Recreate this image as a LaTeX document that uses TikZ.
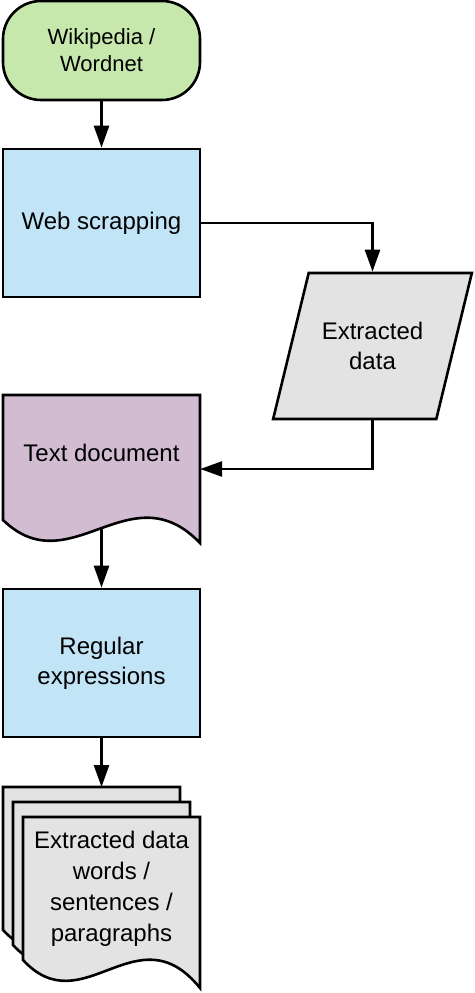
\documentclass[tikz,border=0pt]{standalone}
\usepackage{fontspec}
\setmainfont{Liberation Sans}
\usetikzlibrary{arrows.meta,shapes.geometric}
\definecolor{termgreen}{RGB}{199,232,172}
\definecolor{procblue}{RGB}{193,228,247}
\definecolor{docpurple}{RGB}{209,188,210}
\definecolor{iogray}{RGB}{227,227,227}
\begin{document}
\begin{tikzpicture}[x=1pt,y=-1pt,
	every node/.style={font=\fontsize{24}{30}\selectfont,align=center},
	arr/.style={line width=2.6pt,-{Triangle[length=22pt,width=15pt]}},
	startbox/.style={rectangle,rounded corners=38pt,draw,line width=2.6pt,fill=termgreen,
		minimum width=197pt,minimum height=99pt,font=\fontsize{22}{27}\selectfont},
	procbox/.style={rectangle,draw,line width=2.6pt,fill=procblue,minimum width=197pt,minimum height=148pt},
	iobox/.style={trapezium,trapezium left angle=61,trapezium right angle=119,trapezium stretches=true,
		draw,line width=2.6pt,fill=iogray,minimum width=199pt,minimum height=146pt},
	docshape/.style={draw,line width=2.6pt,line join=miter},
	docnode/.style={rectangle,minimum width=197pt,minimum height=148pt}]
		\useasboundingbox (0,0) rectangle (474,993);
		
		\draw[docshape,fill=docpurple](3,395)--(200,395)--(200,543) .. controls (130,470) and (70,585) .. (3,520)--cycle;
		
		\draw[docshape,fill=iogray](3,787)--(180,787)--(180,958) .. controls (117,880) and (63,995) .. (3,930)--cycle;
		\draw[docshape,fill=iogray](13,802)--(190,802)--(190,973) .. controls (127,895) and (73,1010) .. (13,945)--cycle;
		\draw[docshape,fill=iogray](23,817)--(200,817)--(200,988) .. controls (137,910) and (83,1025) .. (23,960)--cycle;
		
		\node[startbox] (wiki) at (101.5,50.5) {Wikipedia /\\Wordnet};
		\node[procbox] (web) at (101.5,223) {Web scrapping};
		\node[iobox] (ext) at (372.5,346) {Extracted\\data};
		\node[docnode,label={[yshift=16pt]center:Text document}] (txt) at (101.5,469) {};
		\node[procbox] (regex) at (101.5,663) {Regular\\expressions};
		\node[docnode,minimum width=177pt,minimum height=143pt,font=\fontsize{24}{31}\selectfont] (data) at (111.5,888.5)
			{Extracted data\\words /\\sentences /\\paragraphs};
		\coordinate (stack) at (91.5,787);
		
		\draw[arr](wiki)--(web);
		\draw[arr](web.east)-|(ext);
		\draw[arr](ext)|-(txt.east);
		\draw[arr]([yshift=14pt]txt.south)--(regex);
		\draw[arr](regex)--(regex|-stack);
\end{tikzpicture}
\end{document}
